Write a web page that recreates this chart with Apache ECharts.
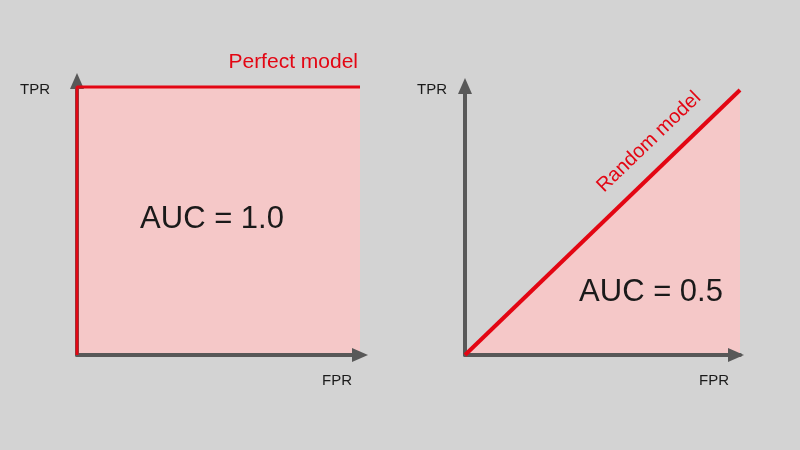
<!DOCTYPE html>
<html>
<head>
<meta charset="utf-8">
<script src="https://cdn.jsdelivr.net/npm/echarts@6/dist/echarts.min.js"></script>
<style>
html,body{margin:0;padding:0;background:#d3d3d3;}
#c{width:800px;height:450px;}
</style>
</head>
<body>
<div id="c"></div>
<script>
// Data
const perfectFPR = [0, 0, 1];
const perfectTPR = [0, 1, 1];
const randomFPR = [0, 1];
const randomTPR = [0, 1];
const titles = ["Perfect model", "Random model"];
const aucLabels = ["AUC = 1.0", "AUC = 0.5"];
const axisNames = ["TPR", "FPR"];

const RED = '#e30613';
const PINK = '#f5c8c8';
const AXIS = '#585858';
const FONT = '"Liberation Sans", Arial, sans-serif';

function pts(xs, ys){ return xs.map((x,i)=>[x, ys[i]]); }

const chart = echarts.init(document.getElementById('c'), null, {renderer:'canvas'});

function axis(gridIndex, max, endOffset){
  return {
    type:'value', gridIndex, min:0, max, z:5,
    splitLine:{show:false}, axisTick:{show:false}, axisLabel:{show:false},
    axisLine:{show:true, onZero:false, symbol:['none','triangle'], symbolSize:[14,16], symbolOffset:[0,endOffset],
      lineStyle:{color:AXIS, width:4}}
  };
}

const textStyle = (t, x, y, size, color, align, rot) => ({
  type:'text', x, y, rotation: rot || 0, z:100,
  style:{text:t, fill:color, font: size + 'px ' + FONT, textAlign:align, textVerticalAlign:'middle'}
});

chart.setOption({
  backgroundColor:'#d3d3d3',
  animation:false,
  grid:[
    {left:77, top:81, width:283, height:274},
    {left:465, top:86, width:275, height:269}
  ],
  xAxis:[axis(0, 1, 0), axis(1, 1, -4)],
  yAxis:[axis(0, 1.022, 0), axis(1, 1.015, 0)],
  series:[
    {type:'line', xAxisIndex:0, yAxisIndex:0, data:pts(perfectFPR, perfectTPR), symbol:'none', z:1,
      lineStyle:{width:0, opacity:0}, areaStyle:{color:PINK, opacity:1, origin:'start'}},
    {type:'line', xAxisIndex:1, yAxisIndex:1, data:pts(randomFPR, randomTPR), symbol:'none', z:1,
      lineStyle:{width:0, opacity:0}, areaStyle:{color:PINK, opacity:1, origin:'start'}},
    {type:'line', xAxisIndex:0, yAxisIndex:0, data:pts(perfectFPR, perfectTPR), symbol:'none', z:10,
      lineStyle:{color:RED, width:3}},
    {type:'line', xAxisIndex:1, yAxisIndex:1, data:pts(randomFPR, randomTPR), symbol:'none', z:10,
      lineStyle:{color:RED, width:4}}
  ],
  graphic:[
    textStyle(titles[0], 358, 62, 21, RED, 'right'),
    textStyle(titles[1], 649, 142, 20, RED, 'center', 0.766),
    textStyle(aucLabels[0], 212, 219, 31, '#1a1a1a', 'center'),
    textStyle(aucLabels[1], 651, 292, 31, '#1a1a1a', 'center'),
    textStyle(axisNames[0], 20, 90, 15, '#1a1a1a', 'left'),
    textStyle(axisNames[0], 417, 90, 15, '#1a1a1a', 'left'),
    textStyle(axisNames[1], 322, 381, 15, '#1a1a1a', 'left'),
    textStyle(axisNames[1], 699, 381, 15, '#1a1a1a', 'left')
  ]
});
</script>
</body>
</html>
